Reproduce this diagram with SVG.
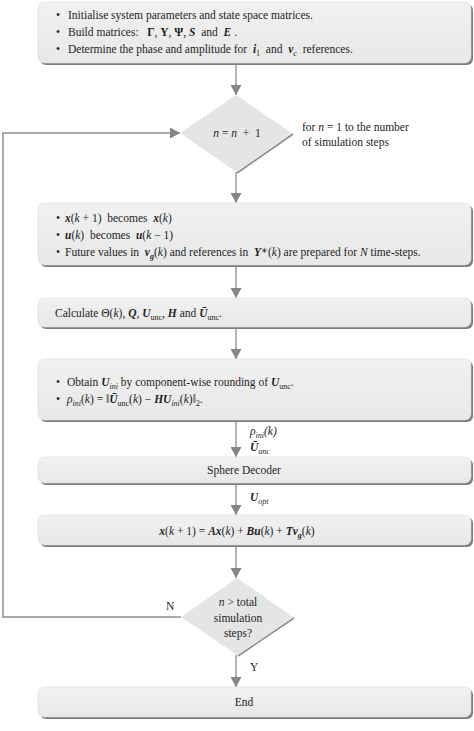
<svg xmlns="http://www.w3.org/2000/svg" width="474" height="731" viewBox="0 0 474 731">
<defs>
<marker id="ah" markerUnits="userSpaceOnUse" markerWidth="11" markerHeight="11" refX="10" refY="5.5" orient="auto">
<path d="M0,0 L10,5.5 L0,11 z" fill="#858585"/>
</marker>
<linearGradient id="g" x1="0" y1="0" x2="0" y2="1">
<stop offset="0" stop-color="#f1f1f1"/><stop offset="1" stop-color="#e8e8e8"/>
</linearGradient>
</defs>
<style>
.sh{fill:#7d7d7d}
.bx{fill:url(#g);stroke:#dcdcdc;stroke-width:0.6}
.dm{fill:#e5e5e5}
.dsh{fill:none;stroke:#8a8a8a;stroke-width:1.6}
text{font-family:"Liberation Serif","Times New Roman",serif;font-size:11.5px;fill:#1e1e1e}
.c{text-anchor:middle}
.i{font-style:italic}
.b{font-style:italic;font-weight:bold}
.g{font-weight:bold}
.s{font-size:8px}
.conn{fill:none;stroke:#9a9a9a;stroke-width:1.5}
.loop{fill:none;stroke:#aaaaaa;stroke-width:2}
</style>
<rect width="474" height="731" fill="#ffffff"/>

<g id="connectors">
<path class="conn" d="M236,64 V95" marker-end="url(#ah)"/>
<path class="conn" d="M236,172 V203" marker-end="url(#ah)"/>
<path class="conn" d="M236,266 V298" marker-end="url(#ah)"/>
<path class="conn" d="M236,329 V359" marker-end="url(#ah)"/>
<path class="conn" d="M236,422 V457" marker-end="url(#ah)"/>
<path class="conn" d="M236,484 V515" marker-end="url(#ah)"/>
<path class="conn" d="M236,547 V578" marker-end="url(#ah)"/>
<path class="conn" d="M236,655 V687" marker-end="url(#ah)"/>
<path class="loop" d="M181,617 H3 V133 H180" marker-end="url(#ah)"/>
<text x="250" y="435" class="i">ρ<tspan class="s" baseline-shift="-2.5">ini</tspan>(<tspan class="i">k</tspan>)</text>
<text x="250" y="451" class="b">Ū<tspan class="s" baseline-shift="-2.5" font-weight="normal">unc</tspan></text>
<text x="250" y="501" class="b">U<tspan class="s" baseline-shift="-2.5" font-weight="normal">opt</tspan></text>
<text x="166" y="610">N</text>
<text x="250" y="671">Y</text>
</g>

<g id="init">
<rect class="sh" x="40" y="4" width="433" height="61" rx="6"/>
<rect class="bx" x="38" y="2" width="433" height="61" rx="6"/>
<text x="56" y="19">•</text>
<text x="68" y="19">Initialise system parameters and state space matrices.</text>
<text x="56" y="36">•</text>
<text x="68" y="36" xml:space="preserve">Build matrices:   <tspan class="g">Γ</tspan>, <tspan class="g">Υ</tspan>, <tspan class="g">Ψ</tspan>, <tspan class="b">S</tspan>  and  <tspan class="b">E</tspan> .</text>
<text x="56" y="53">•</text>
<text x="68" y="53" xml:space="preserve">Determine the phase and amplitude for  <tspan class="b">i</tspan><tspan class="s" baseline-shift="-2.5">1</tspan>  and  <tspan class="b">v</tspan><tspan class="s i" baseline-shift="-2.5">c</tspan>  references.</text>
</g>

<g id="loop-start">
<polygon class="dm" points="236,95 292,133 236,172 180,133"/>
<path class="dsh" d="M293,134 L237,173"/>
<text x="237" y="137" class="c" xml:space="preserve"><tspan class="i">n</tspan> = <tspan class="i">n</tspan>  +  1</text>
<text x="302" y="131">for <tspan class="i">n</tspan> = 1 to the number</text>
<text x="302" y="146">of simulation steps</text>
</g>

<g id="shift">
<rect class="sh" x="40" y="205" width="433" height="62" rx="6"/>
<rect class="bx" x="38" y="203" width="433" height="62" rx="6"/>
<text x="56" y="222">•</text>
<text x="65" y="222" xml:space="preserve"><tspan class="b">x</tspan>(<tspan class="i">k</tspan> + 1)  becomes  <tspan class="b">x</tspan>(<tspan class="i">k</tspan>)</text>
<text x="56" y="239">•</text>
<text x="65" y="239" xml:space="preserve"><tspan class="b">u</tspan>(<tspan class="i">k</tspan>)  becomes  <tspan class="b">u</tspan>(<tspan class="i">k</tspan> − 1)</text>
<text x="56" y="256">•</text>
<text x="65" y="256" xml:space="preserve">Future values in  <tspan class="b">v</tspan><tspan class="s b" baseline-shift="-2.5">g</tspan>(<tspan class="i">k</tspan>) and references in  <tspan class="b">Y</tspan><tspan baseline-shift="3" class="s">∗</tspan>(<tspan class="i">k</tspan>) are prepared for <tspan class="i">N</tspan> time-steps.</text>
</g>

<g id="calculate">
<rect class="sh" x="40" y="300" width="433" height="29" rx="6"/>
<rect class="bx" x="38" y="298" width="433" height="29" rx="6"/>
<text x="55" y="317">Calculate Θ(<tspan class="i">k</tspan>), <tspan class="b">Q</tspan>, <tspan class="b">U</tspan><tspan class="s" baseline-shift="-2.5">unc</tspan>, <tspan class="b">H</tspan> and <tspan class="b">Ū</tspan><tspan class="s" baseline-shift="-2.5">unc</tspan>.</text>
</g>

<g id="rounding">
<rect class="sh" x="40" y="361" width="433" height="61" rx="6"/>
<rect class="bx" x="38" y="359" width="433" height="61" rx="6"/>
<text x="56" y="386">•</text>
<text x="67" y="386">Obtain <tspan class="b">U</tspan><tspan class="s i" baseline-shift="-2.5">ini</tspan> by component-wise rounding of <tspan class="b">U</tspan><tspan class="s" baseline-shift="-2.5">unc</tspan>.</text>
<text x="56" y="403">•</text>
<text x="67" y="403"><tspan class="i">ρ</tspan><tspan class="s i" baseline-shift="-2.5">ini</tspan>(<tspan class="i">k</tspan>) = ‖<tspan class="b">Ū</tspan><tspan class="s" baseline-shift="-2.5">unc</tspan>(<tspan class="i">k</tspan>) − <tspan class="b">HU</tspan><tspan class="s i" baseline-shift="-2.5">ini</tspan>(<tspan class="i">k</tspan>)‖<tspan class="s" baseline-shift="-2.5">2</tspan>.</text>
</g>

<g id="sphere-decoder">
<rect class="sh" x="40" y="459" width="433" height="26" rx="6"/>
<rect class="bx" x="38" y="457" width="433" height="26" rx="6"/>
<text x="244" y="474" class="c">Sphere Decoder</text>
</g>

<g id="update">
<rect class="sh" x="40" y="517" width="433" height="30" rx="6"/>
<rect class="bx" x="38" y="515" width="433" height="30" rx="6"/>
<text x="237" y="535" class="c"><tspan class="b">x</tspan>(<tspan class="i">k</tspan> + 1) = <tspan class="b">Ax</tspan>(<tspan class="i">k</tspan>) + <tspan class="b">Bu</tspan>(<tspan class="i">k</tspan>) + <tspan class="b">Tv</tspan><tspan class="s b" baseline-shift="-2.5">g</tspan>(<tspan class="i">k</tspan>)</text>
</g>

<g id="loop-check">
<polygon class="dm" points="237,578 293,617 237,655 181,617"/>
<path class="dsh" d="M294,618 L238,656"/>
<text x="238" y="606" class="c"><tspan class="i">n</tspan> &gt; total</text>
<text x="238" y="622" class="c">simulation</text>
<text x="238" y="637" class="c">steps?</text>
</g>

<g id="end">
<rect class="sh" x="40" y="689" width="433" height="30" rx="6"/>
<rect class="bx" x="38" y="687" width="433" height="30" rx="6"/>
<text x="244" y="706" class="c">End</text>
</g>
</svg>
